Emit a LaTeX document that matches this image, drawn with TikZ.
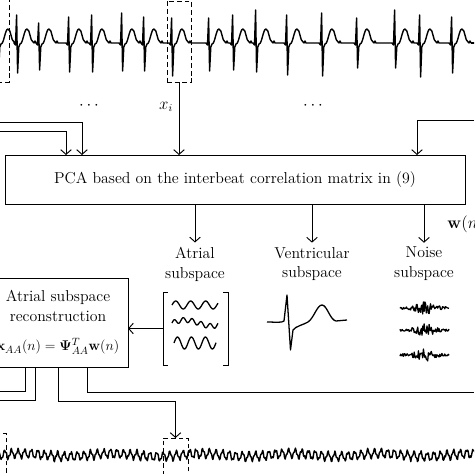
\documentclass[tikz,border=0pt]{standalone}
\usetikzlibrary{arrows.meta}
\begin{document}
\begin{tikzpicture}[x=0.03cm, y=-0.03cm, line width=0.8pt,
    >={Straight Barb[length=4pt,width=9pt]},
    txt/.style={font=\fontsize{13.5}{17}\selectfont},
    box/.style={draw, inner sep=0pt, outer sep=0pt, txt},
    win/.style={draw, dash pattern=on 4pt off 2.5pt, inner sep=0pt, outer sep=0pt},
    sig/.style={line width=1.2pt, line join=round}]
    \useasboundingbox (0,0) rectangle (474,474);
    \clip (0,0) rectangle (474,474);
    \pgfmathsetseed{7}

    % Top ECG with the beat windows
    \draw[sig] (-10,43) \foreach \x/\r/\s in {-2/18/72, 17/15/73, 39/23/70, 69/17/72, 92/15/72,
        122/13/71, 144/17/71, 172/18/76, 209/18/71, 233/15/70, 256/10/72, 287/15/75,
        322/13/76, 357/18/68, 395/10/68, 420/15/77, 452/17/73}
      { -- (\x-3,43) -- (\x-1.5,45) -- (\x-0.4,\r) -- (\x+0.6,\s) -- (\x+1.8,47) -- (\x+3,44)
        .. controls (\x+6,44) and (\x+7,29) .. (\x+10,29)
        .. controls (\x+13,29) and (\x+13,41) .. (\x+16,42) -- (\x+17,43) -- (\x+18,41) -- (\x+19,43) };
    \draw[sig] (471,43) -- (480,43);
    \node[win, minimum width=0.57cm, minimum height=2.61cm] (win1) at (-0.5,38.5) {};
    \node[win, minimum width=0.72cm, minimum height=2.43cm] (win2) at (179,41.5) {};
    \node[txt] (dotsA) at (89,106) {$\cdots$};
    \node[txt] (dotsB) at (313,106) {$\cdots$};
    \node[txt] (xi) at (166,107) {$x_i$};

    % PCA block
    \node[box, minimum width=13.8cm, minimum height=1.47cm] (pca) at (235,179.5)
      {PCA based on the interbeat correlation matrix in (9)};
    \coordinate (inA) at (0,122);
    \coordinate (inB) at (0,131);
    \coordinate (inC) at (474,120);
    \coordinate (kA) at (82,0);
    \coordinate (kB) at (66,0);
    \coordinate (kC) at (417,0);
    \draw[->] (win2.south) -- (pca.north -| win2.south);
    \draw[->] (inA) -| (pca.north -| kA);
    \draw[->] (inB) -| (pca.north -| kB);
    \draw[->] (inC) -| (pca.north -| kC);

    % Subspaces
    \node[txt, align=center] (atr) at (195,264) {Atrial\\subspace};
    \node[txt, align=center] (ven) at (312,264) {Ventricular\\subspace};
    \node[txt, align=center] (noi) at (424,264) {Noise\\subspace};
    \node[txt, anchor=west] (wlab) at (443,224) {$\mathbf{w}(n)$};
    \draw[->] (pca.south -| atr) -- (atr.north);
    \draw[->] (pca.south -| ven) -- (ven.north);
    \draw[->] (pca.south -| noi) -- (noi.north);

    % Atrial basis in brackets
    \node[inner sep=0pt, outer sep=0pt, minimum width=1.95cm, minimum height=2.19cm] (atrsp) at (195.5,328.5) {};
    \draw ([xshift=0.14cm]atrsp.north west) -- (atrsp.north west) -- (atrsp.south west) -- ++(0.14cm,0);
    \draw ([xshift=-0.14cm]atrsp.north east) -- (atrsp.north east) -- (atrsp.south east) -- ++(-0.14cm,0);
    \draw[sig, line width=1.1pt] plot[domain=172:218, samples=60] (\x,{305-4*sin(deg((\x-172)*0.42))});
    \draw[sig, line width=1.1pt] plot[domain=172:218, samples=60] (\x,{323-2.5*sin(deg((\x-172)*0.7))-3*sin(deg((\x-172)*0.12))});
    \draw[sig, line width=1.1pt] plot[domain=174:216, samples=60] (\x,{343-6*sin(deg((\x-174)*0.45))});

    % Ventricular basis
    \draw[sig, line width=1.1pt] (267,322) .. controls (275,322) and (282,323) .. (284,321)
      -- (287,295) -- (290.5,350) -- (293,330) .. controls (296,326) and (303,325) .. (308,322)
      .. controls (314,318) and (317,305) .. (322,305) .. controls (327,305) and (330,320) .. (336,321) -- (347,320);

    % Noise basis
    \foreach \y in {308,330,355}
      \draw[line width=1.1pt, line join=round] plot[domain=400:449, samples=70]
        (\x,{\y+rand*(1.2+5*exp(-((\x-425)/11)^2))});

    % Reconstruction block
    \node[box, align=center, minimum width=4.2cm, minimum height=2.67cm] (rec) at (58,322.5)
      {Atrial subspace\\reconstruction\\[8pt]\fontsize{12.5}{15}\selectfont
       $\mathbf{x}_{AA}(n)=\mathbf{\Psi}^{T}_{AA}\mathbf{w}(n)$};
    \draw[->] (atrsp.west) -- (rec.east |- atrsp.west);
    \coordinate (oA) at (0,391);
    \coordinate (oB) at (0,400);
    \coordinate (oC) at (474,392);
    \coordinate (bA) at (25,0);
    \coordinate (bB) at (35,0);
    \coordinate (bC) at (58,0);
    \coordinate (bD) at (87,0);
    \draw (rec.south -| bA) |- (oA);
    \draw (rec.south -| bB) |- (oB);
    \draw (rec.south -| bD) |- (oC);

    % Bottom atrial signal
    \draw[sig, line width=1.2pt] plot[domain=-5:480, samples=800]
      (\x,{455-4*sin(mod(\x+10,6.6)*54.55)-1.5*sin(mod(\x+10,2.33)*154.5+57)-1.5*sin(\x*4.01)+0.6*rand});
    \node[win, minimum width=0.63cm, minimum height=1.71cm] (win3) at (-4.5,461.5) {};
    \node[win, minimum width=0.75cm, minimum height=1.62cm] (win4) at (175.5,465) {};
    \draw[->] (rec.south -| bC) -- ++(0,34) -| (win4.north);
\end{tikzpicture}
\end{document}
